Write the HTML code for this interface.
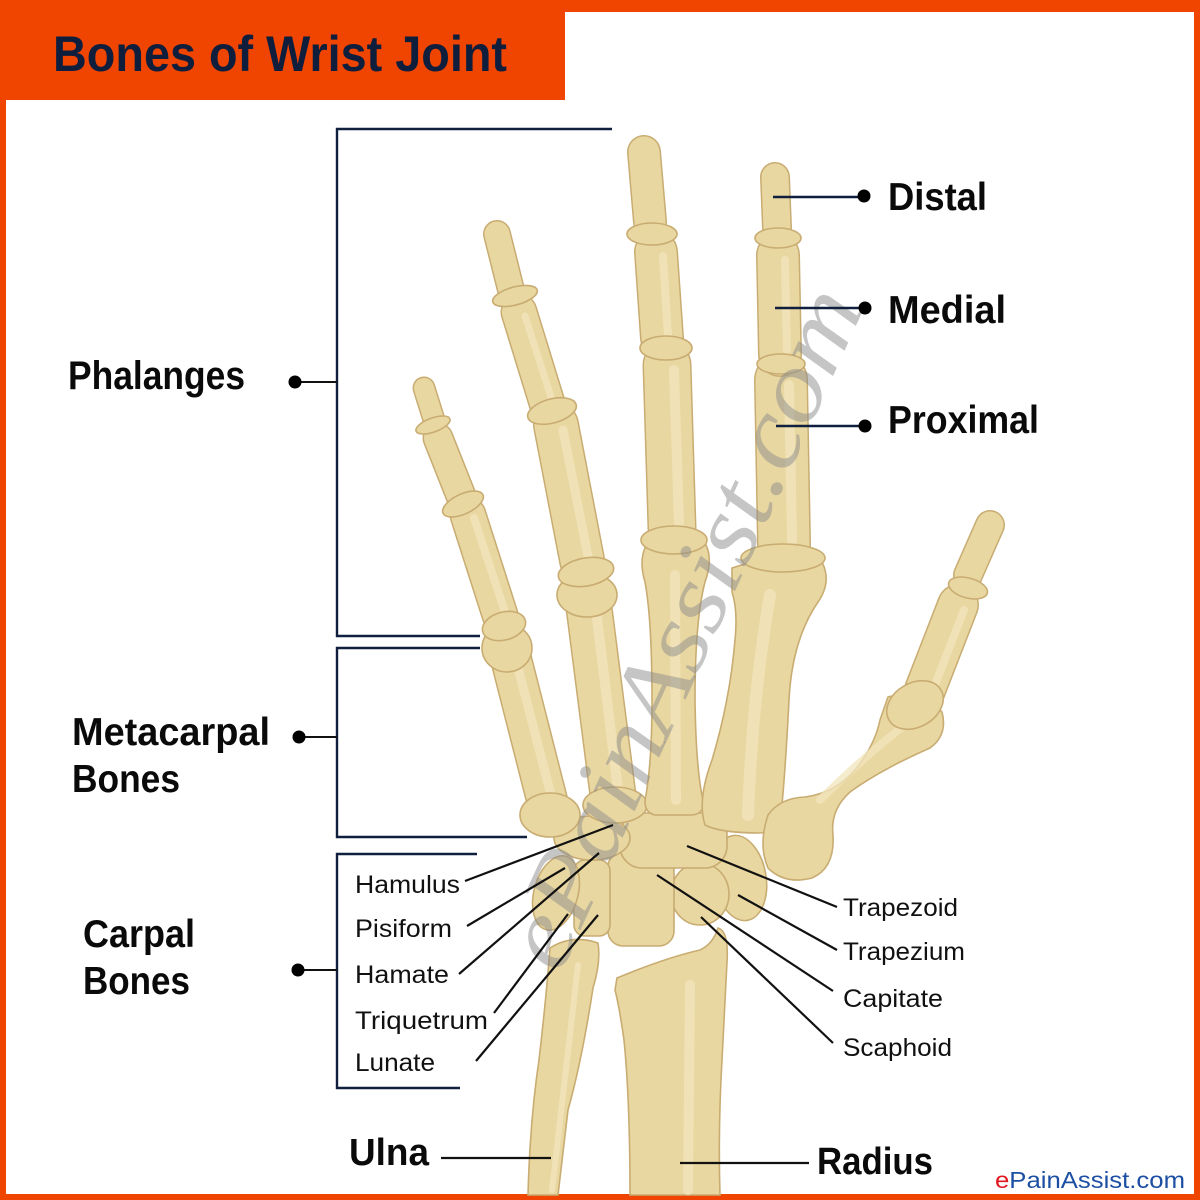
<!DOCTYPE html>
<html>
<head>
<meta charset="utf-8">
<style>
html,body{margin:0;padding:0;background:#fff;}
svg{display:block;}
.o{stroke:#c8ac72;stroke-linecap:round;fill:none;}
.f{stroke:#e9d7a1;stroke-linecap:round;fill:none;}
.h{stroke:#f1e5bd;stroke-linecap:round;fill:none;stroke-opacity:0.75;}
.e{fill:#e9d7a1;stroke:#c8ac72;stroke-width:1.6;}
.nv{stroke:#0f1f3d;stroke-width:2.4;fill:none;}
.bk{stroke:#111;stroke-width:2.2;fill:none;}
.lb{font-family:"Liberation Sans",Arial,sans-serif;font-weight:bold;fill:#0a0a0a;}
.sm{font-family:"Liberation Sans",Arial,sans-serif;fill:#111;}
</style>
</head>
<body>
<svg width="1200" height="1200" viewBox="0 0 1200 1200" xmlns="http://www.w3.org/2000/svg">
<!-- background & frame -->
<rect x="0" y="0" width="1200" height="1200" fill="#ffffff"/>
<rect x="0" y="0" width="1200" height="12" fill="#ef4500"/>
<rect x="0" y="0" width="6" height="1200" fill="#ef4500"/>
<rect x="1194" y="0" width="6" height="1200" fill="#ef4500"/>
<rect x="0" y="1194" width="1200" height="6" fill="#ef4500"/>
<rect x="0" y="0" width="565" height="100" fill="#ef4500"/>
<text x="53" y="71" font-family="Liberation Sans, Arial, sans-serif" font-weight="bold" font-size="50" fill="#0e1e3c" textLength="454" lengthAdjust="spacingAndGlyphs">Bones of Wrist Joint</text>

<!-- ===== Forearm ===== -->
<path class="e" d="M617,978 Q665,958 700,950 Q713,944 718,928 Q729,931 727,962 L722,1060 Q718,1130 720,1195 L630,1195 Q630,1100 624,1040 Q619,1005 615,990 Z"/>
<path class="h" stroke-width="10" d="M690,985 L688,1190"/>
<path class="e" d="M550,948 Q572,934 598,943 Q601,962 593,988 Q582,1060 568,1110 L558,1195 L528,1195 Q530,1120 539,1060 Q546,1000 550,948 Z"/>
<path class="h" stroke-width="6" d="M578,965 L552,1190"/>

<!-- ===== Carpals ===== -->
<ellipse class="e" cx="740" cy="878" rx="26" ry="43" transform="rotate(-10 740 878)"/>
<ellipse class="e" cx="700" cy="894" rx="29" ry="31"/>
<rect class="e" x="608" y="852" width="66" height="94" rx="15"/>
<rect class="e" x="574" y="860" width="36" height="76" rx="11"/>
<ellipse class="e" cx="556" cy="893" rx="22" ry="38" transform="rotate(15 556 893)"/>
<rect class="e" x="620" y="813" width="107" height="55" rx="22"/>
<ellipse class="e" cx="592" cy="838" rx="38" ry="22"/>

<!-- ===== Metacarpals ===== -->
<!-- little -->
<line class="o" x1="510" y1="655" x2="547" y2="800" stroke-width="42"/>
<line class="f" x1="510" y1="655" x2="547" y2="800" stroke-width="39"/>
<line class="h" x1="516" y1="660" x2="551" y2="795" stroke-width="9"/>
<ellipse class="e" cx="507" cy="648" rx="25" ry="24"/>
<ellipse class="e" cx="550" cy="815" rx="30" ry="22"/>
<!-- ring -->
<line class="o" x1="588" y1="600" x2="613" y2="795" stroke-width="47"/>
<line class="f" x1="588" y1="600" x2="613" y2="795" stroke-width="44"/>
<line class="h" x1="596" y1="610" x2="618" y2="790" stroke-width="10"/>
<ellipse class="e" cx="587" cy="595" rx="30" ry="22"/>
<ellipse class="e" cx="615" cy="805" rx="32" ry="18"/>
<!-- middle -->
<path class="e" d="M645,548 L706,545 Q713,560 705,582 Q695,620 695,700 Q696,770 703,800 Q705,815 690,815 L655,815 Q642,812 646,795 Q652,760 652,700 Q652,620 645,582 Q639,562 645,548 Z"/>
<path class="h" stroke-width="10" d="M675,575 L676,800"/>
<!-- index -->
<path class="e" d="M732,568 Q778,552 822,562 Q832,582 818,602 Q792,640 789,700 Q786,760 782,805 Q780,832 760,833 Q720,833 705,825 Q697,800 712,760 Q730,700 735,640 Q738,610 732,592 Z"/>
<path class="h" stroke-width="12" d="M770,595 Q752,700 748,815"/>

<!-- ===== Phalanges ===== -->
<!-- little -->
<line class="o" x1="468" y1="515" x2="500" y2="615" stroke-width="37"/>
<line class="f" x1="468" y1="515" x2="500" y2="615" stroke-width="34"/>
<line class="h" x1="474" y1="518" x2="505" y2="612" stroke-width="8"/>
<ellipse class="e" cx="504" cy="626" rx="22" ry="14" transform="rotate(-15 504 626)"/>
<line class="o" x1="438" y1="438" x2="461" y2="496" stroke-width="31"/>
<line class="f" x1="438" y1="438" x2="461" y2="496" stroke-width="28"/>
<ellipse class="e" cx="463" cy="504" rx="22" ry="10" transform="rotate(-25 463 504)"/>
<line class="o" x1="424" y1="388" x2="434" y2="420" stroke-width="23"/>
<line class="f" x1="424" y1="388" x2="434" y2="420" stroke-width="20"/>
<ellipse class="e" cx="433" cy="425" rx="18" ry="7" transform="rotate(-20 433 425)"/>

<!-- ring -->
<line class="o" x1="556" y1="425" x2="582" y2="560" stroke-width="46"/>
<line class="f" x1="556" y1="425" x2="582" y2="560" stroke-width="43"/>
<line class="h" x1="563" y1="430" x2="588" y2="556" stroke-width="9"/>
<ellipse class="e" cx="586" cy="572" rx="28" ry="14" transform="rotate(-10 586 572)"/>
<line class="o" x1="519" y1="312" x2="547" y2="403" stroke-width="37"/>
<line class="f" x1="519" y1="312" x2="547" y2="403" stroke-width="34"/>
<line class="h" x1="525" y1="316" x2="552" y2="400" stroke-width="7"/>
<ellipse class="e" cx="552" cy="411" rx="25" ry="12" transform="rotate(-15 552 411)"/>
<line class="o" x1="497" y1="234" x2="511" y2="290" stroke-width="28"/>
<line class="f" x1="497" y1="234" x2="511" y2="290" stroke-width="25"/>
<ellipse class="e" cx="515" cy="296" rx="23" ry="9" transform="rotate(-15 515 296)"/>

<!-- middle -->
<line class="o" x1="667" y1="365" x2="672" y2="528" stroke-width="49"/>
<line class="f" x1="667" y1="365" x2="672" y2="528" stroke-width="46"/>
<line class="h" x1="674" y1="370" x2="679" y2="525" stroke-width="10"/>
<ellipse class="e" cx="674" cy="540" rx="33" ry="14"/>
<line class="o" x1="656" y1="252" x2="662" y2="338" stroke-width="44"/>
<line class="f" x1="656" y1="252" x2="662" y2="338" stroke-width="41"/>
<line class="h" x1="663" y1="256" x2="668" y2="335" stroke-width="8"/>
<ellipse class="e" cx="666" cy="348" rx="26" ry="12"/>
<line class="o" x1="644" y1="152" x2="650" y2="222" stroke-width="34"/>
<line class="f" x1="644" y1="152" x2="650" y2="222" stroke-width="31"/>
<ellipse class="e" cx="652" cy="234" rx="25" ry="11"/>

<!-- index -->
<line class="o" x1="781" y1="380" x2="784" y2="545" stroke-width="54"/>
<line class="f" x1="781" y1="380" x2="784" y2="545" stroke-width="51"/>
<line class="h" x1="789" y1="385" x2="792" y2="540" stroke-width="10"/>
<ellipse class="e" cx="783" cy="558" rx="42" ry="14"/>
<line class="o" x1="778" y1="255" x2="780" y2="355" stroke-width="44"/>
<line class="f" x1="778" y1="255" x2="780" y2="355" stroke-width="41"/>
<line class="h" x1="785" y1="260" x2="787" y2="350" stroke-width="8"/>
<ellipse class="e" cx="781" cy="364" rx="24" ry="10"/>
<line class="o" x1="775" y1="177" x2="777" y2="228" stroke-width="30"/>
<line class="f" x1="775" y1="177" x2="777" y2="228" stroke-width="27"/>
<ellipse class="e" cx="778" cy="238" rx="23" ry="10"/>

<!-- thumb -->
<path class="e" d="M888,697 Q920,688 942,712 Q948,735 930,748 Q880,770 850,792 Q830,810 833,835 Q835,868 812,878 Q785,885 768,868 Q758,845 768,815 Q780,798 805,797 Q835,793 855,770 Q875,745 880,720 Z"/>
<path class="h" stroke-width="8" d="M905,725 Q860,760 820,800"/>
<line class="o" x1="958" y1="605" x2="925" y2="690" stroke-width="42"/>
<line class="f" x1="958" y1="605" x2="925" y2="690" stroke-width="39"/>
<line class="h" x1="964" y1="610" x2="933" y2="690" stroke-width="8"/>
<ellipse class="e" cx="915" cy="705" rx="30" ry="22" transform="rotate(-30 915 705)"/>
<line class="o" x1="990" y1="525" x2="968" y2="575" stroke-width="30"/>
<line class="f" x1="990" y1="525" x2="968" y2="575" stroke-width="27"/>
<ellipse class="e" cx="968" cy="588" rx="20" ry="10" transform="rotate(15 968 588)"/>

<!-- watermark -->
<text transform="translate(560,975) rotate(-65.5)" font-family="Liberation Serif, serif" font-style="italic" font-size="100" fill="#8c8c8c" fill-opacity="0.5" textLength="735" lengthAdjust="spacingAndGlyphs">ePainAssist.com</text>

<!-- ===== Brackets ===== -->
<path class="nv" d="M612,129 L337,129 L337,636 L480,636"/>
<path class="nv" d="M480,648 L337,648 L337,837 L527,837"/>
<path class="nv" d="M477,854 L337,854 L337,1088 L460,1088"/>
<line x1="296" y1="382" x2="337" y2="382" stroke="#111" stroke-width="2"/>
<line x1="299" y1="737" x2="337" y2="737" stroke="#111" stroke-width="2"/>
<line x1="299" y1="970" x2="337" y2="970" stroke="#111" stroke-width="2"/>
<circle cx="295" cy="382" r="6.5" fill="#000"/>
<circle cx="299" cy="737" r="6.5" fill="#000"/>
<circle cx="298" cy="970" r="6.5" fill="#000"/>

<!-- Distal / Medial / Proximal -->
<line class="nv" x1="773" y1="197" x2="864" y2="197"/>
<line class="nv" x1="775" y1="308" x2="865" y2="308"/>
<line class="nv" x1="776" y1="426" x2="865" y2="426"/>
<circle cx="864" cy="196" r="6.5" fill="#000"/>
<circle cx="865" cy="308" r="6.5" fill="#000"/>
<circle cx="865" cy="426" r="6.5" fill="#000"/>

<!-- carpal leaders -->
<line class="bk" x1="465" y1="881" x2="613" y2="825"/>
<line class="bk" x1="467" y1="926" x2="565" y2="868"/>
<line class="bk" x1="459" y1="974" x2="599" y2="853"/>
<line class="bk" x1="494" y1="1013" x2="568" y2="914"/>
<line class="bk" x1="476" y1="1061" x2="598" y2="915"/>
<line class="bk" x1="687" y1="846" x2="837" y2="907"/>
<line class="bk" x1="738" y1="895" x2="837" y2="950"/>
<line class="bk" x1="657" y1="875" x2="833" y2="991"/>
<line class="bk" x1="701" y1="917" x2="833" y2="1043"/>

<!-- Ulna / Radius leaders -->
<line x1="441" y1="1158" x2="551" y2="1158" stroke="#111" stroke-width="2.2"/>
<line x1="680" y1="1163" x2="809" y2="1163" stroke="#111" stroke-width="2.2"/>

<!-- ===== Labels ===== -->
<text class="lb" x="68" y="389" font-size="40" textLength="177" lengthAdjust="spacingAndGlyphs">Phalanges</text>
<text class="lb" x="72" y="745" font-size="39" textLength="198" lengthAdjust="spacingAndGlyphs">Metacarpal</text>
<text class="lb" x="72" y="792" font-size="39" textLength="108" lengthAdjust="spacingAndGlyphs">Bones</text>
<text class="lb" x="83" y="947" font-size="39" textLength="112" lengthAdjust="spacingAndGlyphs">Carpal</text>
<text class="lb" x="83" y="994" font-size="39" textLength="107" lengthAdjust="spacingAndGlyphs">Bones</text>

<text class="lb" x="888" y="210" font-size="39" textLength="99" lengthAdjust="spacingAndGlyphs">Distal</text>
<text class="lb" x="888" y="323" font-size="39" textLength="118" lengthAdjust="spacingAndGlyphs">Medial</text>
<text class="lb" x="888" y="433" font-size="39" textLength="151" lengthAdjust="spacingAndGlyphs">Proximal</text>

<text class="sm" x="355" y="893" font-size="25" textLength="105" lengthAdjust="spacingAndGlyphs">Hamulus</text>
<text class="sm" x="355" y="937" font-size="25" textLength="97" lengthAdjust="spacingAndGlyphs">Pisiform</text>
<text class="sm" x="355" y="983" font-size="25" textLength="94" lengthAdjust="spacingAndGlyphs">Hamate</text>
<text class="sm" x="355" y="1029" font-size="25" textLength="133" lengthAdjust="spacingAndGlyphs">Triquetrum</text>
<text class="sm" x="355" y="1071" font-size="25" textLength="80" lengthAdjust="spacingAndGlyphs">Lunate</text>

<text class="sm" x="843" y="916" font-size="25" textLength="115" lengthAdjust="spacingAndGlyphs">Trapezoid</text>
<text class="sm" x="843" y="960" font-size="25" textLength="122" lengthAdjust="spacingAndGlyphs">Trapezium</text>
<text class="sm" x="843" y="1007" font-size="25" textLength="100" lengthAdjust="spacingAndGlyphs">Capitate</text>
<text class="sm" x="843" y="1056" font-size="25" textLength="109" lengthAdjust="spacingAndGlyphs">Scaphoid</text>

<text class="lb" x="349" y="1165" font-size="38" textLength="80" lengthAdjust="spacingAndGlyphs">Ulna</text>
<text class="lb" x="817" y="1174" font-size="38" textLength="116" lengthAdjust="spacingAndGlyphs">Radius</text>

<text x="995" y="1188" font-family="Liberation Sans, Arial, sans-serif" font-size="23" textLength="190" lengthAdjust="spacingAndGlyphs"><tspan fill="#e0191f">e</tspan><tspan fill="#1c4fa3">PainAssist.com</tspan></text>
</svg>
</body>
</html>
